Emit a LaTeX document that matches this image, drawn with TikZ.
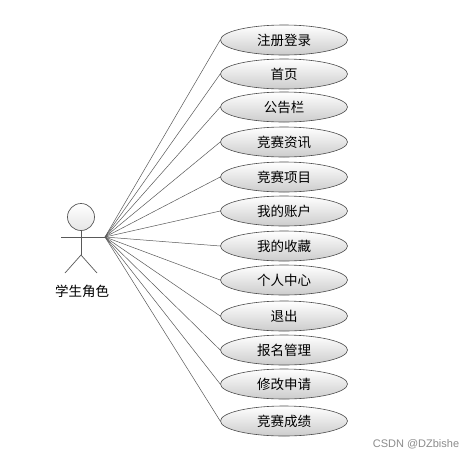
\documentclass[tikz,border=0pt]{standalone}
\usepackage{fontspec}
\setmainfont{Liberation Sans}
\newfontfamily\cjk{Noto Sans CJK SC}
\usetikzlibrary{shapes.geometric}
\begin{document}
\begin{tikzpicture}[x=1pt,y=-1pt,
  usecase/.style={ellipse,draw=black!70,line width=0.6pt,minimum width=127pt,minimum height=30pt,inner sep=0pt,
    top color=white,bottom color=black!20,font=\cjk\fontsize{13.5}{15}\selectfont},
  link/.style={draw=black!65,line width=0.5pt},
  stick/.style={draw=black!65,line width=0.7pt}]
\useasboundingbox (0,0) rectangle (474,459);
\fill[white] (0,0) rectangle (474,459);
% actor
\node[circle,draw=black!65,line width=0.7pt,minimum size=27pt,inner sep=0pt,top color=white,bottom color=black!10] (head) at (81,217) {};
\coordinate (neck) at (81,230);
\coordinate (hip) at (81,255);
\coordinate (larm) at (61,237);
\coordinate (hand) at (105,237);
\coordinate (lleg) at (65,273);
\coordinate (rleg) at (97,273);
\draw[stick] (head.south) -- (hip);
\draw[stick] (larm) -- (hand);
\draw[stick] (lleg) -- (hip) -- (rleg);
\node[font=\cjk\fontsize{13.5}{15}\selectfont] (actor) at (82,291) {学生角色};
% use cases
\foreach \n/\y/\t in {1/40/注册登录,2/74/首页,3/107/公告栏,4/142/竞赛资讯,5/177/竞赛项目,6/211/我的账户,7/246/我的收藏,8/280/个人中心,9/316/退出,10/350/报名管理,11/384/修改申请,12/421/竞赛成绩}{
  \node[usecase] (u\n) at (284,\y) {\t};
  \draw[link] (hand) -- (u\n.west);
}
\node[text=black!45,font=\fontsize{11}{13}\selectfont] (wm) at (416,444) {CSDN @DZbishe};
\end{tikzpicture}
\end{document}
